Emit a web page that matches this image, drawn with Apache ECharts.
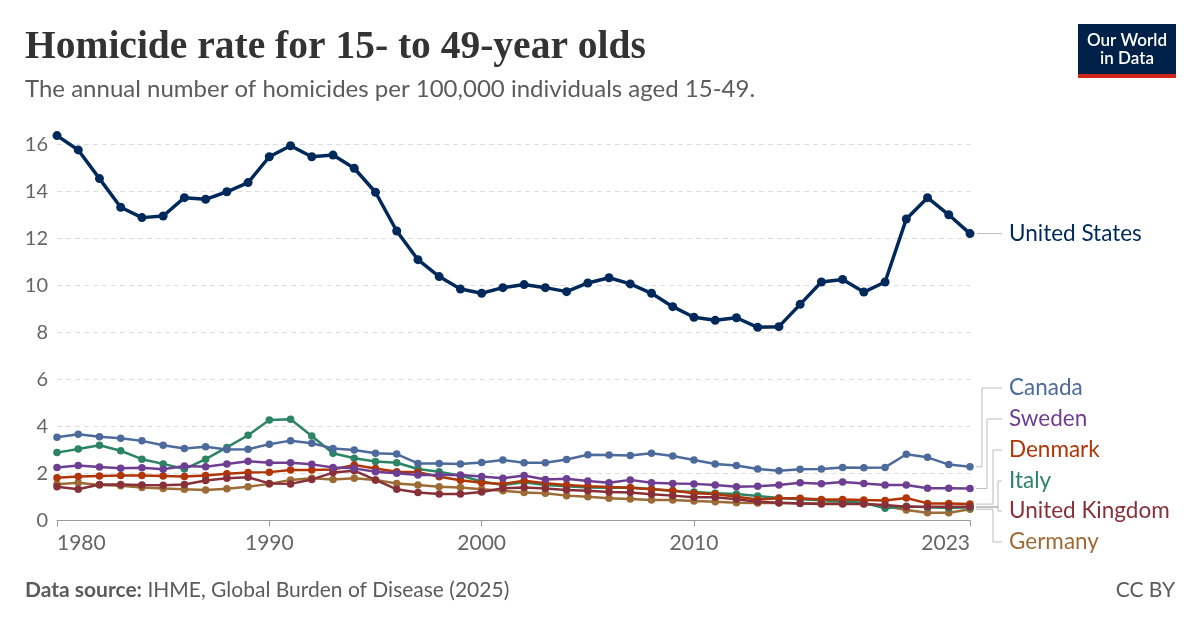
<!DOCTYPE html>
<html>
<head>
<meta charset="utf-8">
<script src="https://cdn.jsdelivr.net/npm/echarts@6/dist/echarts.min.js"></script>
<style>
  html, body { margin: 0; padding: 0; background: #fff; }
  #chart { width: 1200px; height: 627px; }
</style>
</head>
<body>
<div id="chart"></div>
<script>
// years 1980..2023
const years = []
for (let y = 1980; y <= 2023; y++) years.push(String(y))
const shownYears = ['1980', '1990', '2000', '2010', '2023']
const yTicks = [0, 2, 4, 6, 8, 10, 12, 14, 16]

const unitedStates = [16.37, 15.76, 14.54, 13.32, 12.88, 12.95, 13.73, 13.66, 13.98, 14.37,
  15.47, 15.94, 15.47, 15.54, 14.98, 13.96, 12.31, 11.09, 10.37, 9.84,
  9.66, 9.9, 10.03, 9.9, 9.73, 10.1, 10.32, 10.06, 9.66, 9.09,
  8.64, 8.51, 8.62, 8.21, 8.24, 9.19, 10.14, 10.25, 9.71, 10.14,
  12.82, 13.73, 13.0, 12.2]
const canada = [3.53, 3.66, 3.56, 3.49, 3.38, 3.19, 3.06, 3.13, 3.01, 3.02,
  3.24, 3.39, 3.28, 3.06, 2.99, 2.85, 2.82, 2.42, 2.42, 2.4,
  2.46, 2.57, 2.45, 2.45, 2.59, 2.79, 2.78, 2.76, 2.85, 2.74,
  2.57, 2.4, 2.33, 2.18, 2.11, 2.17, 2.18, 2.25, 2.24, 2.25,
  2.81, 2.68, 2.37, 2.28]
const sweden = [2.25, 2.33, 2.27, 2.21, 2.24, 2.17, 2.31, 2.28, 2.4, 2.51,
  2.45, 2.45, 2.38, 2.25, 2.21, 2.07, 2.0, 1.93, 1.93, 1.93,
  1.86, 1.79, 1.91, 1.74, 1.77, 1.67, 1.6, 1.72, 1.6, 1.57,
  1.55, 1.5, 1.43, 1.45, 1.5, 1.6, 1.56, 1.63, 1.57, 1.5,
  1.5, 1.36, 1.36, 1.35]
const denmark = [1.81, 1.86, 1.89, 1.91, 1.91, 1.89, 1.86, 1.91, 1.98, 2.03,
  2.05, 2.14, 2.14, 2.16, 2.35, 2.2, 2.07, 2.05, 1.85, 1.7,
  1.6, 1.55, 1.68, 1.58, 1.5, 1.45, 1.42, 1.38, 1.32, 1.27,
  1.15, 1.12, 1.0, 0.89, 0.94, 0.94, 0.89, 0.89, 0.86, 0.84,
  0.95, 0.72, 0.72, 0.69]
const italy = [2.88, 3.03, 3.19, 2.96, 2.6, 2.4, 2.18, 2.6, 3.1, 3.62,
  4.27, 4.3, 3.59, 2.85, 2.64, 2.5, 2.45, 2.18, 2.07, 1.9,
  1.65, 1.5, 1.62, 1.5, 1.45, 1.4, 1.38, 1.4, 1.33, 1.25,
  1.2, 1.15, 1.12, 1.03, 0.95, 0.9, 0.85, 0.8, 0.75, 0.51,
  0.6, 0.55, 0.52, 0.55]
const unitedKingdom = [1.43, 1.32, 1.52, 1.52, 1.5, 1.49, 1.52, 1.69, 1.79, 1.83,
  1.57, 1.55, 1.74, 2.03, 2.11, 1.72, 1.32, 1.18, 1.12, 1.12,
  1.2, 1.36, 1.4, 1.35, 1.29, 1.26, 1.2, 1.18, 1.11, 1.05,
  0.98, 0.98, 0.9, 0.79, 0.75, 0.72, 0.69, 0.69, 0.69, 0.65,
  0.58, 0.58, 0.58, 0.58]
const germany = [1.53, 1.6, 1.5, 1.47, 1.4, 1.35, 1.32, 1.29, 1.34, 1.43,
  1.55, 1.72, 1.79, 1.74, 1.79, 1.72, 1.57, 1.5, 1.43, 1.4,
  1.32, 1.26, 1.18, 1.15, 1.05, 1.0, 0.94, 0.91, 0.86, 0.86,
  0.82, 0.79, 0.75, 0.74, 0.74, 0.73, 0.72, 0.71, 0.7, 0.61,
  0.44, 0.32, 0.32, 0.47]

// draw order: first is bottom
const countries = [
  { name: 'Germany', data: germany, color: '#9c6b36', labelY: 542, elbow: 993 },
  { name: 'Italy', data: italy, color: '#2c8465', labelY: 481, elbow: 998 },
  { name: 'Denmark', data: denmark, color: '#b13507', labelY: 450, elbow: 993 },
  { name: 'United Kingdom', data: unitedKingdom, color: '#883039', labelY: 511, elbow: 998 },
  { name: 'Sweden', data: sweden, color: '#6d3e91', labelY: 419, elbow: 987 },
  { name: 'Canada', data: canada, color: '#4c6a9c', labelY: 388, elbow: 982 },
  { name: 'United States', data: unitedStates, color: '#00295b', labelY: null, elbow: null }
]

const font = 'Lato, "Noto Sans", sans-serif'
const chart = echarts.init(document.getElementById('chart'), null, { renderer: 'canvas' })

chart.setOption({
  backgroundColor: '#fff',
  animation: false,
  textStyle: { fontFamily: font },
  title: [
    {
      text: 'Homicide rate for 15- to 49-year olds',
      left: 25, top: 28, padding: 0,
      textStyle: { fontFamily: '"Liberation Serif", serif', fontWeight: 'bold', fontSize: 39.5, color: '#333' }
    },
    {
      text: 'The annual number of homicides per 100,000 individuals aged 15-49.',
      left: 25, top: 77, padding: 0,
      textStyle: { fontFamily: font, fontWeight: 'normal', fontSize: 24, color: '#5b5b5b' }
    },
    {
      text: '{b|Data source:} IHME, Global Burden of Disease (2025)',
      left: 25, top: 580, padding: 0,
      textStyle: {
        fontFamily: font, fontWeight: 'normal', fontSize: 21, color: '#5b5b5b',
        rich: { b: { fontFamily: font, fontWeight: 'bold', fontSize: 21, color: '#5b5b5b' } }
      }
    },
    {
      text: 'CC BY',
      right: 25, top: 580, padding: 0,
      textStyle: { fontFamily: font, fontWeight: 'normal', fontSize: 21, color: '#5b5b5b' }
    }
  ],
  grid: { left: 57, right: 230, top: 144.3, bottom: 106.7 },
  xAxis: {
    type: 'category',
    data: years,
    boundaryGap: false,
    axisLine: { lineStyle: { color: '#999', width: 1 } },
    axisTick: {
      length: 6,
      lineStyle: { color: '#999' },
      interval: (i, v) => shownYears.includes(v)
    },
    axisLabel: {
      color: '#666', fontSize: 21, fontFamily: font, margin: 12,
      interval: (i, v) => shownYears.includes(v),
      alignMinLabel: 'left',
      alignMaxLabel: 'right'
    }
  },
  yAxis: {
    type: 'value',
    min: yTicks[0],
    max: yTicks[yTicks.length - 1],
    interval: 2,
    axisLine: { show: false },
    axisTick: { show: false },
    axisLabel: { color: '#666', fontSize: 20, fontFamily: font, margin: 9 },
    splitLine: { lineStyle: { color: '#dddddd', type: [5, 4], width: 1 } }
  },
  series: countries.map(c => {
    const big = c.name === 'United States'
    return {
      name: c.name,
      type: 'line',
      data: c.data,
      clip: false,
      symbol: 'circle',
      symbolSize: big ? 9 : 7.5,
      showSymbol: true,
      lineStyle: { color: c.color, width: big ? 3.5 : 2.5 },
      itemStyle: { color: c.color },
      emphasis: { disabled: true },
      z: big ? 5 : 3
    }
  })
})

// right-hand labels with connector lines
const graphics = []
const lastIdx = years.length - 1
countries.forEach((c, si) => {
  const p = chart.convertToPixel({ seriesIndex: si }, [lastIdx, c.data[lastIdx]])
  const ly = c.labelY == null ? p[1] : c.labelY
  const pts = c.elbow == null
    ? [[p[0] + 7, p[1]], [1002, p[1]]]
    : [[p[0] + 6, p[1]], [c.elbow, p[1]], [c.elbow, ly], [1002, ly]]
  graphics.push({
    type: 'polyline',
    shape: { points: pts },
    style: { stroke: '#bbbbbb', lineWidth: 1, fill: null },
    silent: true
  })
  graphics.push({
    type: 'text',
    x: 1009, y: ly,
    style: {
      text: c.name, fill: c.color, font: '22.5px ' + font,
      textVerticalAlign: 'middle', verticalAlign: 'middle'
    },
    silent: true
  })
})

// logo
graphics.push({
  type: 'group', left: 1078, top: 24,
  children: [
    { type: 'rect', shape: { x: 0, y: 0, width: 98, height: 54 }, style: { fill: '#002147' } },
    { type: 'rect', shape: { x: 0, y: 50, width: 98, height: 4 }, style: { fill: '#ce261e' } },
    {
      type: 'text', x: 49, y: 26,
      style: {
        text: 'Our World\nin Data', fill: '#fff', font: '600 17px ' + font,
        align: 'center', verticalAlign: 'middle', lineHeight: 18
      }
    }
  ]
})

chart.setOption({ graphic: graphics })
</script>
</body>
</html>
